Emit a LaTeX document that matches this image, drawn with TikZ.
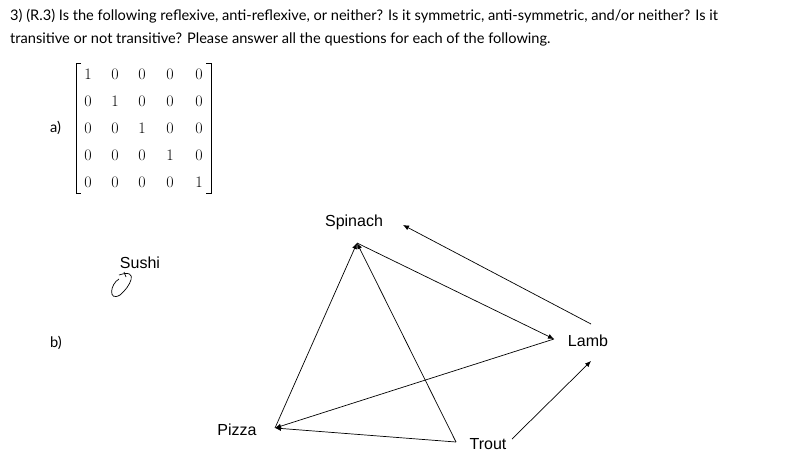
\documentclass[tikz,border=0pt]{standalone}
\usepackage{fontspec}
\usetikzlibrary{arrows.meta}
\setmainfont{Lato}
\newfontfamily\arial{Liberation Sans}
\newfontfamily\lmr{Latin Modern Roman}
\begin{document}
\begin{tikzpicture}[x=1pt,y=-1pt,
  lbl/.style={font=\arial\fontsize{16}{18}\selectfont,inner sep=0pt},
  dg/.style={font=\lmr\fontsize{16}{18}\selectfont,inner sep=0pt},
  arr/.style={-{Latex[length=6pt,width=5pt]},line width=0.7pt},
  txt/.style={font=\fontsize{14.6}{17}\selectfont,inner sep=0pt,anchor=west}]
\useasboundingbox[fill=white] (0,0) rectangle (805,475);
\node[txt] (t1) at (10,16) {3) (R.3) Is the following reflexive, anti-reflexive, or neither? Is it symmetric, anti-symmetric, and/or neither? Is it};
\node[txt] (t2) at (10,39) {transitive or not transitive? Please answer all the questions for each of the following.};
\node[txt] (a) at (50,128) {a)};
\node[txt] (b) at (50,343) {b)};
\foreach \r in {1,...,5}{
  \foreach \c/\x in {1/88,2/115,3/142,4/170,5/199}{
    \pgfmathsetmacro\v{\r==\c?1:0}
    \node[dg] (m\r\c) at (\x,{47+27*\r}) {\pgfmathparse{int(\v)}\pgfmathresult};
  }}
\draw[line width=0.8pt] (81,63) -- (76,63) -- (76,193) -- (81,193);
\draw[line width=0.8pt] (206,63) -- (211,63) -- (211,193) -- (206,193);
\node[lbl] (sushi) at (140,263) {Sushi};
\draw[line width=0.7pt] (119,275) .. controls (140,268) and (130,287) .. (120,295) .. controls (108,302) and (110,284) .. (119,279);
\draw[line width=0.7pt] (126,277) -- (124,272);
\node[lbl] (spinach) at (354,222) {Spinach};
\node[lbl] (lamb) at (588,341) {Lamb};
\node[lbl] (pizza) at (237,430) {Pizza};
\node[lbl] (trout) at (488,444) {Trout};
\coordinate (S) at (357,243);
\coordinate (L) at (554,339);
\coordinate (P) at (275,428);
\coordinate (T) at (456,442);
\draw[arr] (P) -- (S);
\draw[arr] (T) -- (S);
\draw[arr] (S) -- (L);
\draw[arr] (L) -- (P);
\draw[arr] (T) -- (P);
\coordinate (l1) at (591,324); \coordinate (l2) at (403,225);
\draw[arr] (l1) -- (l2);
\coordinate (r1) at (512,439); \coordinate (r2) at (591,361);
\draw[arr] (r1) -- (r2);
\end{tikzpicture}
\end{document}
